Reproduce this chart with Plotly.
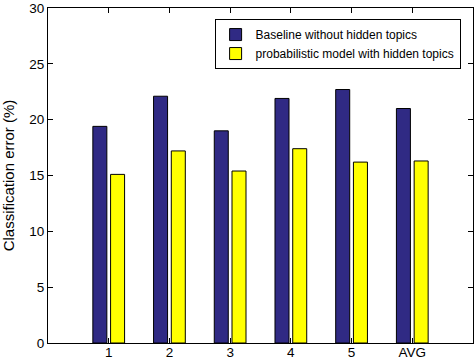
import plotly.graph_objects as go

categories = ["1", "2", "3", "4", "5", "AVG"]
positions = [1, 2, 3, 4, 5, 6]
baseline = [19.4, 22.1, 19.0, 21.9, 22.7, 21.0]
hidden = [15.1, 17.2, 15.4, 17.4, 16.2, 16.3]
y_ticks = [0, 5, 10, 15, 20, 25, 30]

fig = go.Figure()
fig.add_trace(go.Bar(x=positions, y=baseline, name="Baseline without hidden topics",
                     marker=dict(color="#302a84", line=dict(color="black", width=1))))
fig.add_trace(go.Bar(x=positions, y=hidden, name="probabilistic model with hidden topics",
                     marker=dict(color="#ffff00", line=dict(color="black", width=1))))

font = "Liberation Sans, Arial, sans-serif"
fig.update_layout(
    width=474, height=364,
    margin=dict(l=48, r=1, t=8, b=21, autoexpand=False),
    paper_bgcolor="white", plot_bgcolor="white",
    barmode="group", bargap=0.416, bargroupgap=0.21,
    font=dict(family=font, size=13.5, color="black"),
    showlegend=True,
    legend=dict(x=0.392, y=0.967, xanchor="left", yanchor="top",
                bgcolor="white", bordercolor="black", borderwidth=1,
                font=dict(size=12), itemwidth=30,
                tracegroupgap=0),
    xaxis=dict(range=[0, 7], tickmode="array", tickvals=positions, ticktext=categories,
               showline=True, linecolor="black", linewidth=1, mirror="ticks",
               ticks="inside", ticklen=5, tickcolor="black", showgrid=False, zeroline=False,
               ticklabelstandoff=-3, automargin=False),
    yaxis=dict(range=[0, 30], tickmode="array", tickvals=y_ticks,
               title=dict(text="Classification error (%)", standoff=11, font=dict(size=15)),
               showline=True, linecolor="black", linewidth=1, mirror="ticks",
               ticks="inside", ticklen=5, tickcolor="black", showgrid=False, zeroline=False,
               automargin=False),
)

fig.write_html("out.html", config={"displayModeBar": False},
               post_script="document.body.style.margin='0';")
